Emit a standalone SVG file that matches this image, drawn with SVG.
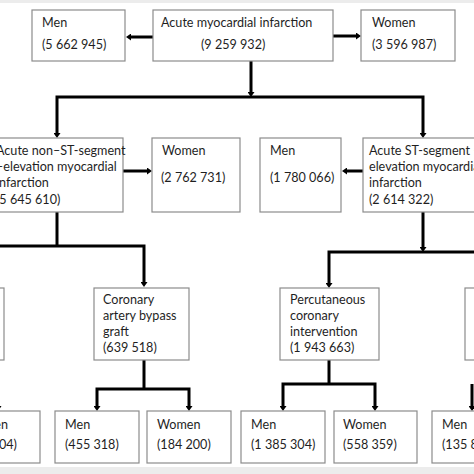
<svg xmlns="http://www.w3.org/2000/svg" width="474" height="474" viewBox="0 0 474 474">
<defs>
<style>
.box{fill:#fff;stroke:#8c8c8c;stroke-width:1.2}
.t{font-family:Lato,"Liberation Sans",sans-serif;font-size:12.6px;fill:#1f1f1f}
.c{fill:none;stroke:#000;stroke-width:3;stroke-linejoin:miter}
.ca{fill:none;stroke:#000;stroke-width:3;stroke-linejoin:miter;marker-end:url(#ah)}
</style>
<marker id="ah" viewBox="0 0 5 7" refX="0" refY="3.5" markerWidth="5" markerHeight="7" markerUnits="userSpaceOnUse" orient="auto">
<path d="M0,0 L5,3.5 L0,7 z" fill="#000"/>
</marker>
</defs>
<rect x="0" y="0" width="474" height="474" fill="#fff"/>
<rect x="0" y="0" width="474" height="3" fill="#ececec"/>
<rect x="0" y="467" width="474" height="7" fill="#ececec"/>

<g id="connectors">
<path class="ca" d="M153,37 H131"/>
<path class="ca" d="M333,36 H356"/>
<path class="ca" d="M251,61 V92"/>
<path class="ca" d="M251,97 H57 V133"/>
<path class="ca" d="M251,97 H423 V133"/>
<path class="ca" d="M123,171 H147"/>
<path class="ca" d="M363,171 H347"/>
<path class="c" d="M57,212 V246"/>
<path class="c" d="M57,246 H-20"/>
<path class="ca" d="M57,246 H144 V282"/>
<path class="ca" d="M423,212 V247"/>
<path class="c" d="M423,252 H490"/>
<path class="ca" d="M423,252 H329 V283"/>
<path class="c" d="M144,360 V389"/>
<path class="ca" d="M144,389 H97 V406"/>
<path class="ca" d="M144,389 H189 V406"/>
<path class="c" d="M329,360 V384"/>
<path class="ca" d="M329,384 H283 V406"/>
<path class="ca" d="M329,384 H375 V406"/>
<path class="ca" d="M472,384 V406"/>
<path class="ca" d="M-2,384 V406"/>
</g>

<g id="men_total">
<rect class="box" x="32" y="10" width="93" height="51"/>
<text class="t" x="42" y="27">Men</text>
<text class="t" x="42" y="49">(5 662 945)</text>
</g>
<g id="ami">
<rect class="box" x="153" y="10" width="180" height="51"/>
<text class="t" x="161" y="27">Acute myocardial infarction</text>
<text class="t" x="201" y="49">(9 259 932)</text>
</g>
<g id="women_total">
<rect class="box" x="361" y="10" width="94" height="51"/>
<text class="t" x="372" y="27">Women</text>
<text class="t" x="372" y="49">(3 596 987)</text>
</g>

<g id="nstemi">
<rect class="box" x="-30" y="138" width="153" height="74"/>
<text class="t" x="-4" y="155">Acute non–ST-segment</text>
<text class="t" x="-4" y="171">–elevation myocardial</text>
<text class="t" x="-4" y="187">infarction</text>
<text class="t" x="-4" y="204">(5 645 610)</text>
</g>
<g id="nstemi_women">
<rect class="box" x="152" y="138" width="88" height="74"/>
<text class="t" x="162" y="155">Women</text>
<text class="t" x="161" y="182">(2 762 731)</text>
</g>
<g id="stemi_men">
<rect class="box" x="260" y="138" width="81" height="74"/>
<text class="t" x="270" y="155">Men</text>
<text class="t" x="270" y="182">(1 780 066)</text>
</g>
<g id="stemi">
<rect class="box" x="363" y="138" width="130" height="74"/>
<text class="t" x="369" y="155">Acute ST-segment –</text>
<text class="t" x="369" y="171">elevation myocardial</text>
<text class="t" x="369" y="187">infarction</text>
<text class="t" x="369" y="204">(2 614 322)</text>
</g>

<g id="nstemi_treat_left">
<rect class="box" x="-80" y="288" width="84" height="72"/>
</g>
<g id="cabg">
<rect class="box" x="94" y="288" width="95" height="72"/>
<text class="t" x="103" y="304">Coronary</text>
<text class="t" x="103" y="320">artery bypass</text>
<text class="t" x="103" y="336">graft</text>
<text class="t" x="103" y="352">(639 518)</text>
</g>
<g id="pci">
<rect class="box" x="280" y="288" width="99" height="72"/>
<text class="t" x="290" y="304">Percutaneous</text>
<text class="t" x="290" y="320">coronary</text>
<text class="t" x="290" y="336">intervention</text>
<text class="t" x="290" y="352">(1 943 663)</text>
</g>
<g id="stemi_treat_right">
<rect class="box" x="465" y="288" width="60" height="72"/>
</g>

<g id="left_men">
<rect class="box" x="-45" y="411" width="85" height="52"/>
<text class="t" x="8" y="429" text-anchor="end">Men</text>
<text class="t" x="17" y="449" text-anchor="end">04)</text>
</g>
<g id="cabg_men">
<rect class="box" x="55" y="411" width="84" height="52"/>
<text class="t" x="65" y="429">Men</text>
<text class="t" x="65" y="449">(455 318)</text>
</g>
<g id="cabg_women">
<rect class="box" x="147" y="411" width="84" height="52"/>
<text class="t" x="157" y="429">Women</text>
<text class="t" x="157" y="449">(184 200)</text>
</g>
<g id="pci_men">
<rect class="box" x="241" y="411" width="84" height="52"/>
<text class="t" x="251" y="429">Men</text>
<text class="t" x="251" y="449">(1 385 304)</text>
</g>
<g id="pci_women">
<rect class="box" x="334" y="411" width="83" height="52"/>
<text class="t" x="343" y="429">Women</text>
<text class="t" x="343" y="449">(558 359)</text>
</g>
<g id="right_men">
<rect class="box" x="432" y="411" width="84" height="52"/>
<text class="t" x="442" y="429">Men</text>
<text class="t" x="442" y="449">(135 8</text>
</g>
</svg>
